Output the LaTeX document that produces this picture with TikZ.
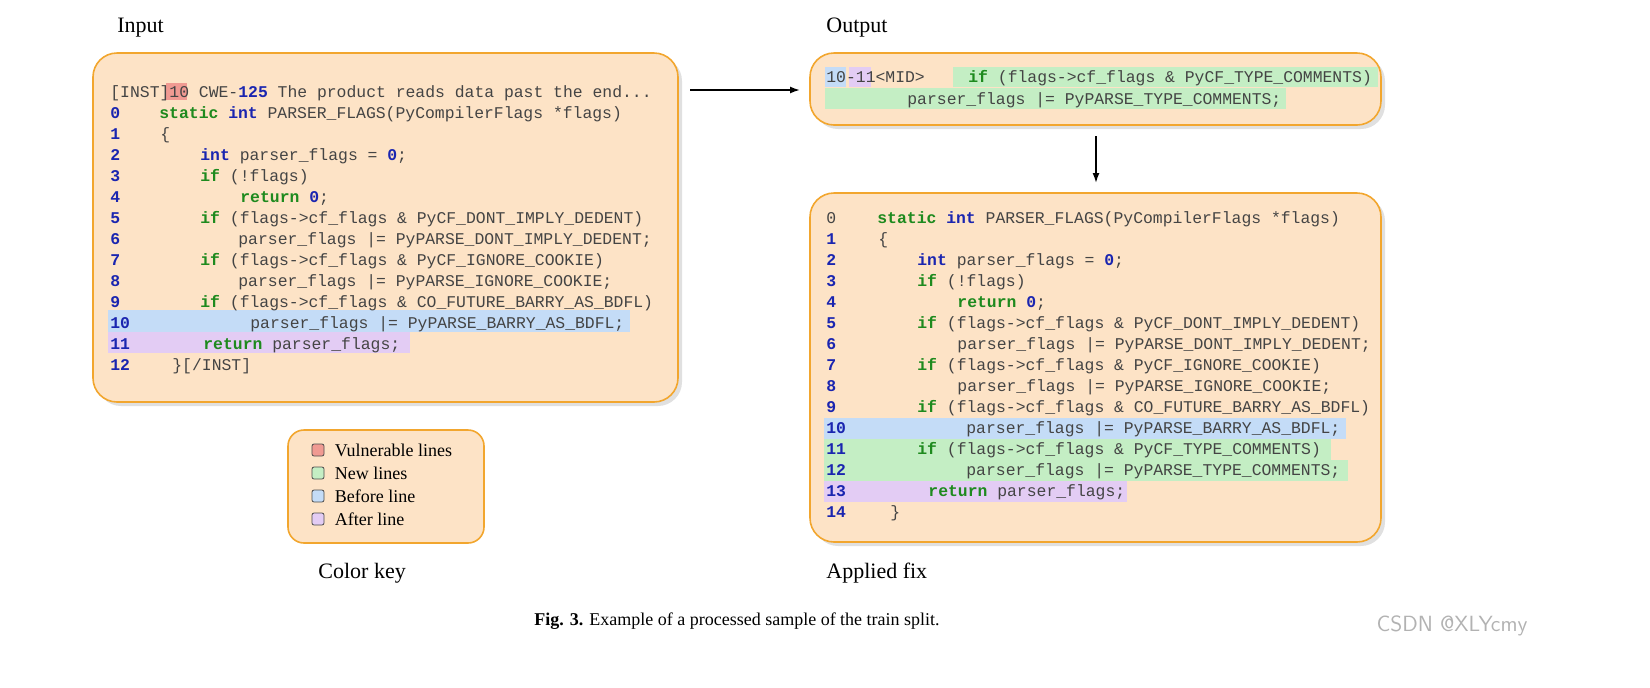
\documentclass[tikz,border=0pt]{standalone}
\usepackage{fontspec}
\setmainfont{Liberation Serif}
\newfontfamily\codefont{Liberation Mono}
\usetikzlibrary{positioning,arrows.meta}
\definecolor{boxfill}{HTML}{FDE3C6}
\definecolor{boxdraw}{HTML}{F2A62E}
\definecolor{hlblue}{HTML}{C4DCF7}
\definecolor{hlpurple}{HTML}{E3CCF4}
\definecolor{hlgreen}{HTML}{C4EEC4}
\definecolor{hlred}{HTML}{F09A92}
\definecolor{kwgreen}{HTML}{1E8A1E}
\definecolor{numblue}{HTML}{1A25B0}
\definecolor{codegray}{HTML}{444444}
\newcommand\kw[1]{\textbf{\color{kwgreen}#1}}
\newcommand\ty[1]{\textbf{\color{numblue}#1}}
\begin{document}
\begin{tikzpicture}[x=0.5pt,y=-0.5pt,
    >={Latex[length=5pt,width=3.5pt]},
    ]
\tikzset{
  panel/.style={draw=boxdraw, line width=0.8pt, fill=boxfill, rounded corners=12pt},
  shade/.style={fill=black!12, rounded corners=12pt},
  code/.style={anchor=base west, inner sep=0pt, text=codegray, font=\codefont\fontsize{8.2}{10}\selectfont},
  lnum/.style={code, text=numblue, font=\codefont\bfseries\fontsize{8.2}{10}\selectfont},
  title/.style={anchor=base west, inner sep=0pt, font=\fontsize{11}{13}\selectfont},
  keytext/.style={anchor=west, inner sep=0pt, font=\fontsize{9}{11}\selectfont},
  swatch/.style={draw=black!70, fill=#1, rounded corners=1pt, minimum size=6pt, inner sep=0pt},
  flow/.style={->, line width=0.8pt}
}
\useasboundingbox (0,0) rectangle (1650,687);
% ------------------------------------------------- 
% Panels
\fill[shade] (97,57) rectangle (682,406);
\draw[panel] (93,53) rectangle (678,402);
\fill[shade] (814,57) rectangle (1385,129);
\draw[panel] (810,53) rectangle (1381,125);
\fill[shade] (814,197) rectangle (1385,546);
\draw[panel] (810,193) rectangle (1381,542);
\draw[panel, rounded corners=8pt] (288,430) rectangle (484,543);
% ------------------------------------------------- 
% Invisible anchors for the connectors
\coordinate (inR) at (690,90);
\coordinate (outL) at (800,90);
\coordinate (outB) at (1096,136);
\coordinate (fixT) at (1096,183);
\draw[flow] (inR) -- (outL);
\draw[flow] (outB) -- (fixT);
% ------------------------------------------------- 
% Input code
\fill[hlred] (166,83) rectangle (187,100);
\fill[hlblue] (108,310) rectangle (630,332);
\fill[hlpurple] (108,332) rectangle (410,353);
\node[code] (i0) at (110,97) {[INST]10 CWE-\ty{125} The product reads data past the end...};
\foreach \n/\y in {0/118,1/139,2/160,3/181,4/202,5/223,6/244,7/265,8/286,9/307,10/328,11/349,12/370}
  \node[lnum] (n\n) at (110,\y) {\n};
\node[code] (c0) at (159,118) {\kw{static} \ty{int} PARSER\_FLAGS(PyCompilerFlags *flags)};
\node[code] (c1) at (160,139) {\{};
\node[code] (c2) at (200,160) {\ty{int} parser\_flags = \ty{0};};
\node[code] (c3) at (200,181) {\kw{if} (!flags)};
\node[code] (c4) at (240,202) {\kw{return} \ty{0};};
\node[code] (c5) at (200,223) {\kw{if} (flags->cf\_flags \& PyCF\_DONT\_IMPLY\_DEDENT)};
\node[code] (c6) at (238,244) {parser\_flags |= PyPARSE\_DONT\_IMPLY\_DEDENT;};
\node[code] (c7) at (200,265) {\kw{if} (flags->cf\_flags \& PyCF\_IGNORE\_COOKIE)};
\node[code] (c8) at (238,286) {parser\_flags |= PyPARSE\_IGNORE\_COOKIE;};
\node[code] (c9) at (200,307) {\kw{if} (flags->cf\_flags \& CO\_FUTURE\_BARRY\_AS\_BDFL)};
\node[code] (c10) at (250,328) {parser\_flags |= PyPARSE\_BARRY\_AS\_BDFL;};
\node[code] (c11) at (203,349) {\kw{return} parser\_flags;};
\node[code] (c12) at (172,370) {\}[/INST]};
% ------------------------------------------------- 
% Output code
\fill[hlblue] (825,67) rectangle (846,87);
\fill[hlpurple] (849,67) rectangle (871,87);
\fill[hlgreen] (953,67) rectangle (1378,87);
\fill[hlgreen] (825,88) rectangle (1286,109);
\node[code] (o0) at (826,82) {10-11<MID>};
\node[code] (o1) at (968,82) {\kw{if} (flags->cf\_flags \& PyCF\_TYPE\_COMMENTS)};
\node[code] (o2) at (907,104) {parser\_flags |= PyPARSE\_TYPE\_COMMENTS;};
% ------------------------------------------------- 
% Applied fix code
\fill[hlblue] (824,418) rectangle (1346,439);
\fill[hlgreen] (824,439) rectangle (1331,460);
\fill[hlgreen] (824,460) rectangle (1348,481);
\fill[hlpurple] (824,481) rectangle (1127,502);
\node[code] (m0) at (826,223) {0};
\foreach \n/\y in {1/244,2/265,3/286,4/307,5/328,6/349,7/370,8/391,9/412,10/433,11/454,12/475,13/496,14/517}
  \node[lnum] (m\n) at (826,\y) {\n};
\node[code] (f0) at (877,223) {\kw{static} \ty{int} PARSER\_FLAGS(PyCompilerFlags *flags)};
\node[code] (f1) at (878,244) {\{};
\node[code] (f2) at (917,265) {\ty{int} parser\_flags = \ty{0};};
\node[code] (f3) at (917,286) {\kw{if} (!flags)};
\node[code] (f4) at (957,307) {\kw{return} \ty{0};};
\node[code] (f5) at (917,328) {\kw{if} (flags->cf\_flags \& PyCF\_DONT\_IMPLY\_DEDENT)};
\node[code] (f6) at (957,349) {parser\_flags |= PyPARSE\_DONT\_IMPLY\_DEDENT;};
\node[code] (f7) at (917,370) {\kw{if} (flags->cf\_flags \& PyCF\_IGNORE\_COOKIE)};
\node[code] (f8) at (957,391) {parser\_flags |= PyPARSE\_IGNORE\_COOKIE;};
\node[code] (f9) at (917,412) {\kw{if} (flags->cf\_flags \& CO\_FUTURE\_BARRY\_AS\_BDFL)};
\node[code] (f10) at (966,433) {parser\_flags |= PyPARSE\_BARRY\_AS\_BDFL;};
\node[code] (f11) at (917,454) {\kw{if} (flags->cf\_flags \& PyCF\_TYPE\_COMMENTS)};
\node[code] (f12) at (966,475) {parser\_flags |= PyPARSE\_TYPE\_COMMENTS;};
\node[code] (f13) at (928,496) {\kw{return} parser\_flags;};
\node[code] (f14) at (890,517) {\}};
% ------------------------------------------------- 
% Color key
\node[swatch=hlred] (s1) at (318,450) {};
\node[swatch=hlgreen, below=11.5pt of s1.center, anchor=center] (s2) {};
\node[swatch=hlblue, below=11.5pt of s2.center, anchor=center] (s3) {};
\node[swatch=hlpurple, below=11.5pt of s3.center, anchor=center] (s4) {};
\node[keytext, right=5pt of s1] (k1) {Vulnerable lines};
\node[keytext, right=5pt of s2] (k2) {New lines};
\node[keytext, right=5pt of s3] (k3) {Before line};
\node[keytext, right=5pt of s4] (k4) {After line};
% ------------------------------------------------- 
% Titles and caption
\node[title] (tin) at (117,32) {Input};
\node[title] (tout) at (826,32) {Output};
\node[title] (tkey) at (318,578) {Color key};
\node[title] (tfix) at (826,578) {Applied fix};
\node[inner sep=0pt, font=\fontsize{9}{11}\selectfont] (cap) at (737,621) {\textbf{Fig. 3.} Example of a processed sample of the train split.};
\node[inner sep=0pt, text=black!30, font=\sffamily\fontsize{11}{13}\selectfont] (wm) at (1452,626) {CSDN @XLYcmy};
\end{tikzpicture}
\end{document}
